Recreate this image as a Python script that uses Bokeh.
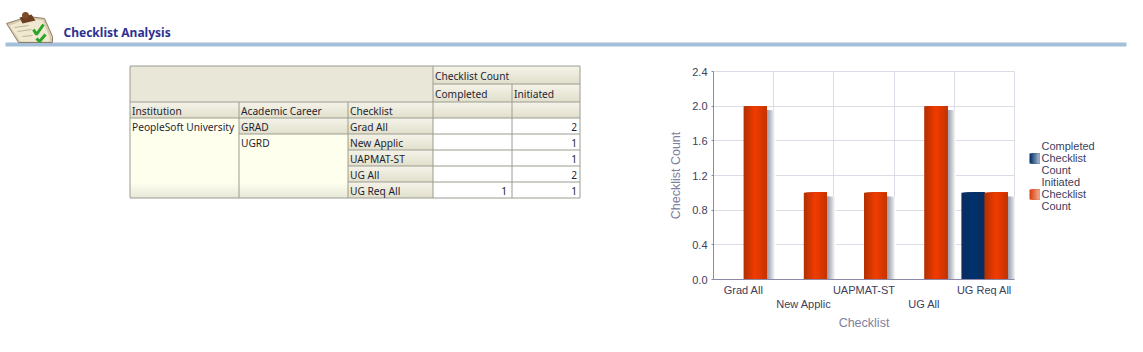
from bokeh.embed import file_html
from bokeh.resources import INLINE
from bokeh.plotting import figure
from bokeh.layouts import column, row
from bokeh.models import Range1d, FixedTicker, ColumnDataSource
from bokeh.core.properties import value

# ---- data ----
title_text = "Checklist Analysis"
checklists = ["Grad All", "New Applic", "UAPMAT-ST", "UG All", "UG Req All"]
completed = [None, None, None, None, 1]
initiated = [2, 1, 1, 2, 1]
institution = "PeopleSoft University"
careers = ["GRAD", "UGRD"]
row_headers = ["Institution", "Academic Career", "Checklist"]
measure_title = "Checklist Count"
measure_names = ["Completed", "Initiated"]
y_ticks = [0.0, 0.4, 0.8, 1.2, 1.6, 2.0, 2.4]
y_title = "Checklist Count"
x_title = "Checklist"
legend_lines = [["Completed", "Checklist", "Count"], ["Initiated", "Checklist", "Count"]]

# ---- layout constants (picture pixels) ----
TABLE_FONT = "Noto Sans"
CHART_FONT = "Liberation Sans"
COL = [129.5, 238.5, 347.5, 432.5, 511.5, 579.5]
ROW = [65.5, 83.5, 101.5, 117.5, 133.5, 149.5, 165.5, 181.5, 197.5]
LINE = "#9c9c90"
TEXT_DY = 1


def mix(c0, c1, t):
    a = [int(c0[i:i + 2], 16) for i in (1, 3, 5)]
    b = [int(c1[i:i + 2], 16) for i in (1, 3, 5)]
    return "#%02x%02x%02x" % tuple(round(a[k] + (b[k] - a[k]) * t) for k in range(3))


def page_fig(x0, x1, y0, y1):
    p = figure(width=x1 - x0, height=y1 - y0, x_range=Range1d(x0, x1), y_range=Range1d(y1, y0),
               output_backend="svg", toolbar_location=None, frame_align=False,
               min_border=0, min_border_left=0, min_border_right=0, min_border_top=0, min_border_bottom=0)
    p.axis.visible = False
    p.grid.visible = False
    p.outline_line_color = None
    return p


# ---- header band ----
head = page_fig(0, 1135, 0, 48)
head.quad(left=[5], right=[1126], top=[42], bottom=[46], fill_color="#a3bfd9", line_color=None)
# icon
head.patch([6, 28, 44, 52, 52, 18], [23, 16, 18, 36, 42, 42], fill_color="#d8ccae", line_color="#8f7f68", line_width=1)
head.patch([9, 28, 42, 49, 49, 20], [25, 18, 20, 36, 41, 41], fill_color="#f0e8d0", line_color=None)
head.patch([19, 31, 35, 22], [17, 14, 20, 23], fill_color="#6b3f20", line_color=None)
head.scatter([25], [15], size=7, marker="circle", fill_color="#7b4a28", line_color=None)
head.multi_line([[14, 28], [17, 31], [22, 32]], [[27, 25], [31, 29], [36, 35]], line_color="#c0b498", line_width=1)
head.multi_line([[33, 36, 43], [36, 39, 45]], [[29, 34, 24], [38, 41, 34]], line_color="#2aa52a", line_width=3)
head.text([63], [32], text=[title_text], text_font=value(TABLE_FONT), text_font_style="bold",
          text_font_size="12px", text_color="#2e3192", text_baseline="middle")

# ---- table ----
tab = page_fig(0, 660, 48, 344)
strips = dict(left=[], right=[], top=[], bottom=[], color=[])


def vgrad(x0, x1, y0, y1, c0, c1):
    n = int(round(y1 - y0))
    for i in range(n):
        strips["left"].append(x0)
        strips["right"].append(x1)
        strips["top"].append(y0 + i)
        strips["bottom"].append(y1)
        strips["color"].append(mix(c0, c1, i / max(n - 1, 1)))


HEAD_TOP, HEAD_BOT = "#f4f3e8", "#e2e0cc"
FLAT = "#e9e7d7"
vgrad(COL[0], COL[3], ROW[0], ROW[2], FLAT, FLAT)
for k in range(3, 5):
    vgrad(COL[k], COL[k + 1], ROW[1], ROW[2], HEAD_TOP, HEAD_BOT)
vgrad(COL[3], COL[5], ROW[0], ROW[1], HEAD_TOP, HEAD_BOT)
for k in range(0, 5):
    vgrad(COL[k], COL[k + 1], ROW[2], ROW[3], HEAD_TOP, HEAD_BOT)
vgrad(COL[1], COL[2], ROW[3], ROW[4], HEAD_TOP, HEAD_BOT)
for i in range(5):
    vgrad(COL[2], COL[3], ROW[3 + i], ROW[4 + i], HEAD_TOP, HEAD_BOT)
vgrad(COL[0], COL[1], ROW[3], ROW[7], "#ffffee", "#ffffee")
vgrad(COL[0], COL[1], ROW[7], ROW[8], "#ffffee", "#e8e8da")
vgrad(COL[1], COL[2], ROW[4], ROW[7], "#ffffee", "#ffffee")
vgrad(COL[1], COL[2], ROW[7], ROW[8], "#ffffee", "#e8e8da")
tab.quad(left="left", right="right", top="top", bottom="bottom", fill_color="color", line_color=None,
         source=ColumnDataSource(strips))

seg_x, seg_y = [], []


def seg(x0, y0, x1, y1):
    seg_x.append([x0, x1])
    seg_y.append([y0, y1])


seg(COL[0], ROW[0], COL[5], ROW[0])
seg(COL[3], ROW[1], COL[5], ROW[1])
seg(COL[0], ROW[2], COL[5], ROW[2])
seg(COL[0], ROW[3], COL[5], ROW[3])
seg(COL[1], ROW[4], COL[5], ROW[4])
for j in range(5, 8):
    seg(COL[2], ROW[j], COL[5], ROW[j])
seg(COL[0], ROW[8], COL[5], ROW[8])
seg(COL[0], ROW[0], COL[0], ROW[8])
seg(COL[1], ROW[2], COL[1], ROW[8])
seg(COL[2], ROW[2], COL[2], ROW[8])
seg(COL[3], ROW[0], COL[3], ROW[8])
seg(COL[4], ROW[1], COL[4], ROW[8])
seg(COL[5], ROW[0], COL[5], ROW[8])
tab.multi_line(seg_x, seg_y, line_color=LINE, line_width=1)


def cell(p, x, y, s, align="left"):
    p.text([x], [y + TEXT_DY], text=[s], text_font=value(TABLE_FONT), text_font_size="10.2px", text_color="#1f1f33",
           text_baseline="middle", text_align=align)


cell(tab, COL[3] + 2, (ROW[0] + ROW[1]) / 2, measure_title)
cell(tab, COL[3] + 2, (ROW[1] + ROW[2]) / 2, measure_names[0])
cell(tab, COL[4] + 2, (ROW[1] + ROW[2]) / 2, measure_names[1])
for k, s in enumerate(row_headers):
    cell(tab, COL[k] + 2, (ROW[2] + ROW[3]) / 2, s)
cell(tab, COL[0] + 2, (ROW[3] + ROW[4]) / 2, institution)
cell(tab, COL[1] + 2, (ROW[3] + ROW[4]) / 2, careers[0])
cell(tab, COL[1] + 2, (ROW[4] + ROW[5]) / 2, careers[1])
for i, name in enumerate(checklists):
    ym = (ROW[3 + i] + ROW[4 + i]) / 2
    cell(tab, COL[2] + 2, ym, name)
    if completed[i] is not None:
        cell(tab, COL[4] - 5, ym, str(completed[i]), "right")
    if initiated[i] is not None:
        cell(tab, COL[5] - 3, ym, str(initiated[i]), "right")

# ---- chart ----
FW, FH = 301, 208
BAR_PX = 23
chart = figure(width=360, height=296, x_range=Range1d(0, len(checklists)), y_range=Range1d(0, 2.4),
               output_backend="svg", toolbar_location=None, frame_align=False,
               min_border_left=53, min_border_right=6, min_border_top=23, min_border_bottom=65)
chart.outline_line_color = "#dcdce6"
px = len(checklists) / FW
py = 2.4 / FH

chart.xgrid.ticker = FixedTicker(ticks=list(range(len(checklists) + 1)))
chart.ygrid.ticker = FixedTicker(ticks=y_ticks)
chart.grid.grid_line_color = "#dcdce6"
chart.grid.grid_line_width = 1

chart.yaxis.ticker = FixedTicker(ticks=y_ticks)
chart.yaxis.major_label_overrides = {v: "%.1f" % v for v in y_ticks}
centers = [i + 0.5 for i in range(len(checklists))]
chart.xaxis.ticker = FixedTicker(ticks=centers)
chart.xaxis.major_label_overrides = {c: ("\n" + s if i % 2 else s) for i, (c, s) in enumerate(zip(centers, checklists))}
for ax in (chart.xaxis[0], chart.yaxis[0]):
    ax.axis_line_color = "#8a8aa8"
    ax.major_tick_line_color = "#8a8aa8"
    ax.minor_tick_line_color = None
    ax.major_label_text_font = CHART_FONT
    ax.major_label_text_font_size = "11px"
    ax.major_label_text_color = "#40405a"
    ax.axis_label_text_font = CHART_FONT
    ax.axis_label_text_font_size = "12.5px"
    ax.axis_label_text_font_style = "normal"
    ax.axis_label_text_color = "#8080a0"
chart.xaxis[0].major_tick_out = 0
chart.xaxis[0].major_tick_in = 0
chart.yaxis[0].major_tick_out = 2
chart.yaxis[0].major_tick_in = 0
chart.xaxis[0].axis_label = x_title
chart.yaxis[0].axis_label = y_title
chart.xaxis[0].major_label_standoff = 4
chart.xaxis[0].axis_label_standoff = 3
chart.yaxis[0].major_label_standoff = 4
chart.yaxis[0].axis_label_standoff = 6

bars = dict(left=[], right=[], top=[], color=[])
shad = dict(left=[], right=[], top=[], color=[])


def draw_bar(c, val, side, edge_l, mid, edge_r):
    x0 = c - BAR_PX * px if side == 0 else c
    x1 = x0 + BAR_PX * px
    for k in range(9, 0, -1):
        shad["left"].append(x1)
        shad["right"].append(x1 + k * px)
        shad["top"].append(val - 4 * py)
        shad["color"].append(mix("#9296a6", "#ffffff", (k / 9) ** 1.2))
    for k in range(BAR_PX):
        t = (k + 0.5) / BAR_PX
        col = mix(edge_l, mid, t * 2) if t < 0.5 else mix(mid, edge_r, (t - 0.5) * 2)
        bars["left"].append(x0 + k * px)
        bars["right"].append(x1)
        bars["top"].append(val)
        bars["color"].append(col)


for c, v in zip(centers, completed):
    if v is not None:
        draw_bar(c, v, 0, "#0a2c60", "#00336e", "#0a2c60")
for c, v in zip(centers, initiated):
    if v is not None:
        draw_bar(c, v, 1, "#b03000", "#f23c00", "#c43400")

chart.quad(left="left", right="right", top="top", bottom=0, fill_color="color",
           line_color=None, source=ColumnDataSource(shad))
chart.quad(left="left", right="right", top="top", bottom=0, fill_color="color", line_color=None,
           source=ColumnDataSource(bars))

# ---- legend ----
leg = page_fig(1020, 1135, 48, 344)
SW = [("#003066", "#a4b4cc"), ("#d84010", "#f0a888")]
swatch = dict(left=[], right=[], top=[], bottom=[], color=[])
ly = 145
for g, lines in enumerate(legend_lines):
    for k in range(10):
        swatch["left"].append(1029 + k)
        swatch["right"].append(1039)
        swatch["top"].append(ly + 12 - 4)
        swatch["bottom"].append(ly + 12 + 6)
        swatch["color"].append(mix(SW[g][0], SW[g][1], k / 9))
    for j, s in enumerate(lines):
        leg.text([1041], [ly + 12 * j], text=[s], text_font=value(CHART_FONT), text_font_size="11px",
                 text_color="#40405a", text_baseline="middle")
    ly += 36
leg.quad(left="left", right="right", top="top", bottom="bottom", fill_color="color", line_color=None,
         source=ColumnDataSource(swatch))

page = column(head, row(tab, chart, leg, spacing=0), spacing=0)
open("out.html", "w").write(file_html(page, INLINE))
